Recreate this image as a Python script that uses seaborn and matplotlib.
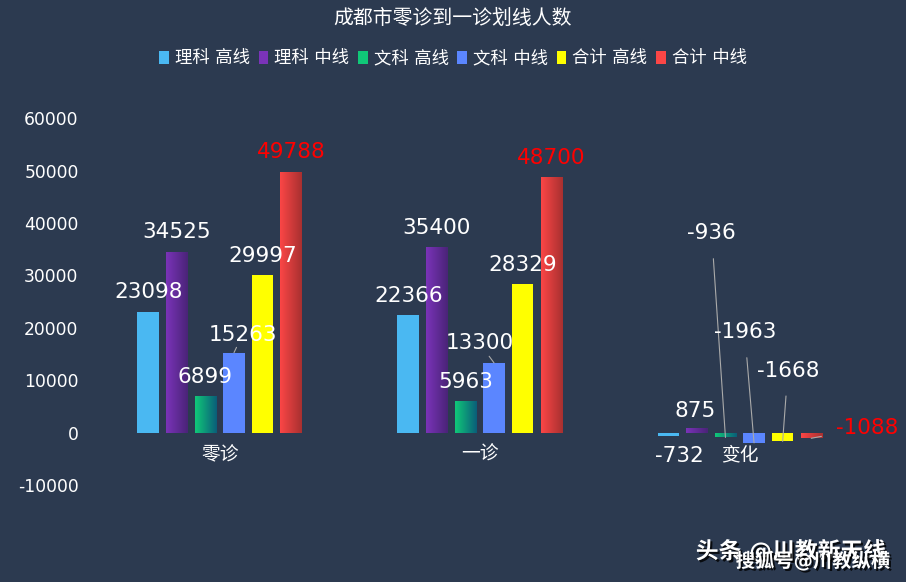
import numpy as np
import pandas as pd
import matplotlib.pyplot as plt
import matplotlib.colors as mcolors
import matplotlib.patheffects as pe
from matplotlib.patches import Patch
import seaborn as sns

categories = ['零诊', '一诊', '变化']
series = ['理科 高线', '理科 中线', '文科 高线', '文科 中线', '合计 高线', '合计 中线']
li_high = [23098, 22366, -732]
li_mid = [34525, 35400, 875]
wen_high = [6899, 5963, -936]
wen_mid = [15263, 13300, -1963]
total_high = [29997, 28329, -1668]
total_mid = [49788, 48700, -1088]
yticks = [-10000, 0, 10000, 20000, 30000, 40000, 50000, 60000]

# colour per series: (left, right) for gradient bars
colors = [('#4ab8f2', '#4ab8f2'), ('#7a33b8', '#4a2478'), ('#10c878', '#0a5e7a'),
          ('#5b86ff', '#5b86ff'), ('#ffff00', '#ffff00'), ('#fb4646', '#a83030')]
bg = '#2c3a50'

values = [li_high, li_mid, wen_high, wen_mid, total_high, total_mid]
rows = []
for s, vals in zip(series, values):
    for c, v in zip(categories, vals):
        rows.append({'类别': c, '系列': s, '人数': v})
df = pd.DataFrame(rows)

plt.rcParams['font.family'] = ['DejaVu Sans', 'Noto Sans CJK SC']

fig = plt.figure(figsize=(9.06, 5.82), dpi=100, facecolor=bg)
ax = fig.add_axes([0.099, 0.1667, 0.861, 0.6303], facecolor=bg)

sns.barplot(data=df, x='类别', y='人数', hue='系列', order=categories, hue_order=series,
            palette=[c[0] for c in colors], saturation=1, width=0.66, gap=0.25,
            legend=False, ax=ax)

ax.set_xlim(-0.5, 2.5)
ax.set_ylim(-10000, 60000)

# horizontal gradient fill for some series
grad = np.linspace(0, 1, 64).reshape(1, -1)
for cont, (c1, c2) in zip(ax.containers, colors):
    if c1 == c2:
        continue
    cmap = mcolors.LinearSegmentedColormap.from_list('g', [c1, c2])
    for bar in cont:
        x0, y0 = bar.get_x(), bar.get_y()
        w, h = bar.get_width(), bar.get_height()
        im = ax.imshow(grad, cmap=cmap, aspect='auto', zorder=bar.get_zorder(),
                       extent=[x0, x0 + w, min(y0, y0 + h), max(y0, y0 + h)])
        im.set_clip_path(bar)
        bar.set_facecolor('none')
ax.set_xlim(-0.5, 2.5)
ax.set_ylim(-10000, 60000)

# value labels; some are pushed away (label x, label y, with leader line?)
moved = {(3, 0): (0.088, 18700, True), (3, 1): (1.0, 17000, True),
         (0, 2): (1.769, -4400, False), (1, 2): (1.827, 4200, False),
         (2, 2): (1.892, 38000, True), (3, 2): (2.019, 19100, True),
         (4, 2): (2.185, 11800, True), (5, 2): (2.492, 950, True)}
for i, cont in enumerate(ax.containers):
    col = '#ff0000' if i == 5 else 'white'
    for j, bar in enumerate(cont):
        v = values[i][j]
        xc = bar.get_x() + bar.get_width() / 2
        if (i, j) in moved:
            tx, ty, line = moved[(i, j)]
            arrow = None
            if line:
                arrow = dict(arrowstyle='-', color='#aaaaaa', lw=0.8, shrinkA=9, shrinkB=0)
            ax.annotate(f'{v}', (xc, v), xytext=(tx, ty), textcoords='data',
                        ha='center', va='center', color=col, fontsize=15.5,
                        arrowprops=arrow)
        else:
            ax.annotate(f'{v}', (xc, v), xytext=(0, 14), textcoords='offset points',
                        ha='center', va='center', color=col, fontsize=15.5)

ax.set_yticks(yticks)
ax.set_yticklabels([str(t) for t in yticks])
ax.tick_params(axis='y', colors='white', labelsize=12.3, length=0, pad=8)
ax.tick_params(axis='x', colors='white', labelsize=13.5, length=0, pad=9)
ax.spines['bottom'].set_position(('data', 0))
for sp in ax.spines.values():
    sp.set_visible(False)
ax.set_xlabel('')
ax.set_ylabel('')

fig.text(0.5, 0.968, '成都市零诊到一诊划线人数', ha='center', va='center',
         color='white', fontsize=14.3, fontweight='medium')

handles = [Patch(facecolor=c[0], edgecolor='none') for c in colors]
fig.legend(handles, series, loc='center', bbox_to_anchor=(0.5, 0.9), ncol=6, frameon=False,
           labelcolor='white', fontsize=12.5, handlelength=0.55, handleheight=0.8,
           handletextpad=0.35, columnspacing=0.5)

shadow = [pe.withSimplePatchShadow(offset=(1.5, -1.5), shadow_rgbFace='black', alpha=0.8)]
fig.text(0.768, 0.052, '头条 @川教新天线', color='white', fontsize=16.4, fontweight='bold',
         va='center', path_effects=shadow)
fig.text(0.812, 0.035, '搜狐号@川教纵横', color='white', fontsize=13.9, fontweight='bold',
         va='center', path_effects=shadow)

fig.savefig('out.png', dpi=100, facecolor=bg)
